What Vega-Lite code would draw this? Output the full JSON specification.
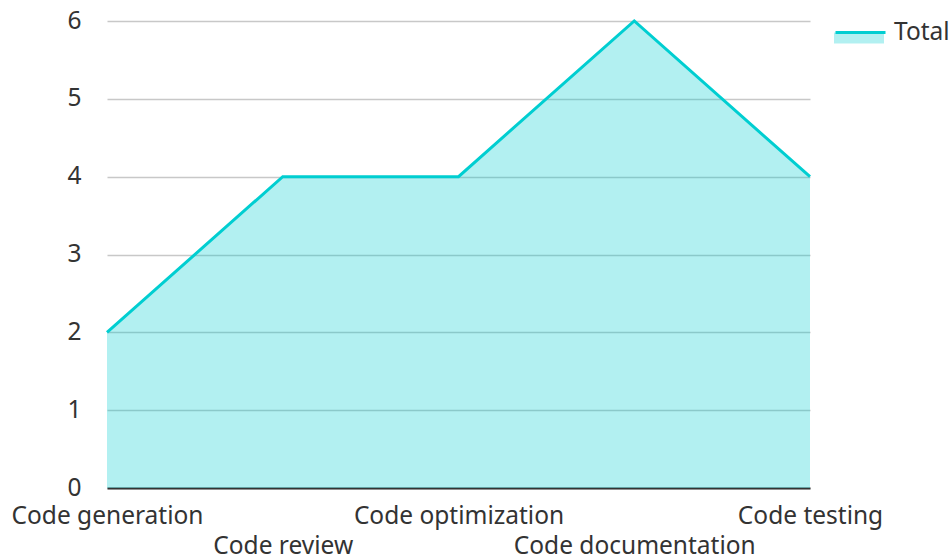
{
  "$schema": "https://vega.github.io/schema/vega-lite/v6.json",
  "width": 703,
  "height": 467,
  "autosize": {"type": "none"},
  "padding": {"left": 107, "top": 21, "right": 140, "bottom": 72},
  "config": {
    "font": "Noto Sans",
    "view": {"stroke": null},
    "axis": {"labelFont": "Noto Sans", "labelColor": "#333333", "labelFontSize": 24.5, "title": null, "ticks": false, "labelLimit": 400},
    "legend": {"labelFont": "Noto Sans"}
  },
  "data": {
    "values": [
      {"task": "Code generation", "value": 2, "series": "Total", "fillseries": "Total"},
      {"task": "Code review", "value": 4, "series": "Total", "fillseries": "Total"},
      {"task": "Code optimization", "value": 4, "series": "Total", "fillseries": "Total"},
      {"task": "Code documentation", "value": 6, "series": "Total", "fillseries": "Total"},
      {"task": "Code testing", "value": 4, "series": "Total", "fillseries": "Total"}
    ]
  },
  "encoding": {
    "x": {
      "field": "task",
      "type": "ordinal",
      "sort": null,
      "scale": {"type": "point", "padding": 0},
      "axis": {
        "labelAngle": 0,
        "grid": false,
        "domainColor": "#333333",
        "domainWidth": 2,
        "labelPadding": 16,
        "labelBaseline": "top",
        "labelLineHeight": 30,
        "labelOverlap": false,
        "labelBound": false,
        "labelFlush": false,
        "labelExpr": "(datum.value === 'Code review' || datum.value === 'Code documentation') ? ['', datum.label] : datum.label"
      }
    },
    "y": {
      "field": "value",
      "type": "quantitative",
      "scale": {"domain": [0, 6], "nice": false},
      "axis": {
        "values": [0, 0.5, 1, 1.5, 2, 2.5, 3, 3.5, 4, 4.5, 5, 5.5, 6],
        "format": "d",
        "labelExpr": "datum.value % 1 === 0 ? datum.label : ''",
        "domain": false,
        "labelPadding": 26,
        "gridWidth": 1.5,
        "gridColor": {"condition": {"test": "datum.value % 1 === 0", "value": "#c8c8c8"}, "value": "#e6e6e6"}
      }
    }
  },
  "layer": [
    {
      "mark": {"type": "area", "fillOpacity": 0.3},
      "encoding": {
        "fill": {
          "field": "fillseries",
          "type": "nominal",
          "scale": {"range": ["#00CED1"]},
          "legend": {
            "orient": "none",
            "legendX": 727,
            "legendY": -15,
            "title": null,
            "symbolType": "M-1,0.06H1V0.5H-1Z",
            "symbolSize": 2500,
            "symbolStrokeWidth": 0,
            "symbolOpacity": 0.3,
            "labelOpacity": 0,
            "labelFontSize": 24.5,
            "labelOffset": 7
          }
        }
      }
    },
    {
      "mark": {"type": "line", "strokeWidth": 3, "color": "#00CED1"},
      "encoding": {
        "stroke": {
          "field": "series",
          "type": "nominal",
          "scale": {"range": ["#00CED1"]},
          "legend": {
            "orient": "none",
            "legendX": 727,
            "legendY": -15,
            "title": null,
            "symbolType": "M-1,0H1",
            "symbolSize": 2500,
            "symbolStrokeWidth": 3,
            "labelFontSize": 24.5,
            "labelColor": "#333333",
            "labelOffset": 7
          }
        }
      }
    }
  ]
}
